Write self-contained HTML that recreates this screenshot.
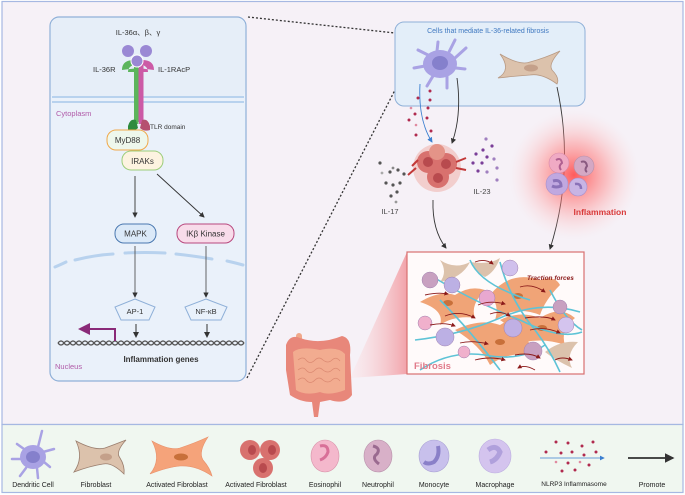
<!DOCTYPE html>
<html><head><meta charset="utf-8"><style>
html,body{margin:0;padding:0;background:#fff}
svg{display:block}
text{font-family:"Liberation Sans",sans-serif}
</style></head><body>
<svg width="685" height="495" viewBox="0 0 685 495" xmlns="http://www.w3.org/2000/svg">
<defs>
<radialGradient id="glow" cx="0.5" cy="0.5" r="0.5">
<stop offset="0" stop-color="#ff4a4a" stop-opacity="0.9"/>
<stop offset="0.5" stop-color="#ff8080" stop-opacity="0.45"/>
<stop offset="1" stop-color="#ffd0d0" stop-opacity="0"/>
</radialGradient>
<linearGradient id="tri" x1="0" x2="1" y1="0" y2="0">
<stop offset="0" stop-color="#fbe4e6" stop-opacity="0.3"/>
<stop offset="1" stop-color="#f2a3aa"/>
</linearGradient>
<marker id="ah" markerWidth="6" markerHeight="6" refX="5" refY="3" orient="auto"><path d="M0,0 L6,3 L0,6 z" fill="#333"/></marker>
<marker id="ahb" markerWidth="6" markerHeight="6" refX="5" refY="3" orient="auto"><path d="M0,0 L6,3 L0,6 z" fill="#3b7fd0"/></marker>
<marker id="ahr" markerWidth="5" markerHeight="5" refX="4" refY="2.5" orient="auto"><path d="M0,0 L5,2.5 L0,5 z" fill="#8b1a1a"/></marker>
<marker id="ahp" markerWidth="6" markerHeight="6" refX="5" refY="3" orient="auto"><path d="M0,0 L6,3 L0,6 z" fill="#8a2a78"/></marker>
</defs>
<rect x="0" y="0" width="685" height="495" fill="#fff"/>
<rect x="2" y="1.5" width="681" height="423" fill="#f6f1f7" stroke="#a6b8e2" stroke-width="1.2"/>
<rect x="2" y="424.5" width="681" height="68" fill="#f0f7f0" stroke="#a6b8e2" stroke-width="1.2"/>

<path d="M248,17 L395,33" stroke="#333" stroke-width="1.3" stroke-dasharray="2,2" fill="none"/>
<path d="M247,378 L395,90" stroke="#333" stroke-width="1.3" stroke-dasharray="2,2" fill="none"/>

<rect x="50" y="17" width="196" height="364" rx="9" fill="#eaf1fa" stroke="#8fb0d8" stroke-width="1.2"/>
<rect x="51" y="18" width="194" height="80" rx="8" fill="#e6eef8"/>
<line x1="52" y1="97" x2="244" y2="97" stroke="#b8d2ee" stroke-width="2"/>
<line x1="52" y1="102" x2="244" y2="102" stroke="#b8d2ee" stroke-width="2"/>
<text x="138" y="35" font-size="7.5" text-anchor="middle" fill="#333">IL-36α、β、γ</text>
<text x="56" y="116" font-size="7.5" fill="#b05aa8">Cytoplasm</text>
<text x="55" y="369" font-size="7.5" fill="#b05aa8">Nucleus</text>
<path d="M122,70 Q122,60 134,60 L136,64 Q128,66 128,72 L135,72 L135,122 L139,122 L139,68 Z" fill="#5cb55c"/>
<path d="M154,70 Q154,60 142,60 L140,64 Q148,66 148,72 L142,72 L142,122 L138,122 L138,68 Z" fill="#cc5aa6"/>
<rect x="134" y="64" width="4.5" height="60" fill="#5cb55c"/>
<rect x="139" y="64" width="4.5" height="60" fill="#cc5aa6"/>
<circle cx="128" cy="51" r="6" fill="#9a88d4"/>
<circle cx="146" cy="51" r="6" fill="#9a88d4"/>
<circle cx="137" cy="61" r="6" fill="#9a88d4" stroke="#fff" stroke-width="1"/>
<text x="93" y="72" font-size="7.5" fill="#333">IL-36R</text>
<text x="158" y="72" font-size="7.5" fill="#333">IL-1RAcP</text>
<path d="M128,126 Q130,118 136,120 L138,128 Q134,132 128,130 Z" fill="#2e8b3e"/>
<path d="M150,126 Q148,118 142,120 L140,128 Q144,132 150,130 Z" fill="#b55070"/>
<text x="150" y="129" font-size="6.5" fill="#333">TLR domain</text>
<rect x="107" y="130" width="41" height="20" rx="9" fill="#eef7ec" stroke="#f0a84a" stroke-width="1"/>
<text x="127.5" y="143" font-size="8" text-anchor="middle" fill="#333">MyD88</text>
<rect x="122" y="151" width="41" height="19" rx="9" fill="#fdf3e0" stroke="#9ccd7a" stroke-width="1"/>
<text x="142.5" y="164" font-size="8" text-anchor="middle" fill="#333">IRAKs</text>
<line x1="135" y1="176" x2="135" y2="217" stroke="#333" stroke-width="0.9" marker-end="url(#ah)"/>
<line x1="157" y1="174" x2="204" y2="217" stroke="#333" stroke-width="0.9" marker-end="url(#ah)"/>
<rect x="115" y="224" width="41" height="19" rx="9" fill="#dbe9f8" stroke="#4a78b0" stroke-width="1"/>
<text x="135.5" y="236.5" font-size="8" text-anchor="middle" fill="#333">MAPK</text>
<rect x="177" y="224" width="57" height="19" rx="9" fill="#f8dcea" stroke="#b8487e" stroke-width="1"/>
<text x="205.5" y="236.5" font-size="8" text-anchor="middle" fill="#333">IKβ Kinase</text>
<g fill="none" stroke="#b8d2ee" stroke-width="3" stroke-linecap="round">
<path d="M55,267 Q62,264 66,262"/><path d="M75,260 Q95,255 113,254"/>
<path d="M125,253 Q145,252 165,253"/><path d="M176,254 Q195,256 212,259"/>
<path d="M227,261 Q236,263 243,265"/>
</g>
<line x1="135" y1="246" x2="135" y2="297" stroke="#555" stroke-width="0.9" marker-end="url(#ah)"/>
<line x1="206" y1="246" x2="206" y2="297" stroke="#555" stroke-width="0.9" marker-end="url(#ah)"/>
<polygon points="135,299 155,307 149,320 121,320 115,307" fill="#e9f1fb" stroke="#8fb0d8" stroke-width="1"/>
<text x="135" y="314" font-size="7.5" text-anchor="middle" fill="#333">AP-1</text>
<polygon points="206,299 227,307 221,320 191,320 185,307" fill="#e9f1fb" stroke="#8fb0d8" stroke-width="1"/>
<text x="206" y="314" font-size="7.5" text-anchor="middle" fill="#333">NF-κB</text>
<line x1="136" y1="324" x2="136" y2="337" stroke="#333" stroke-width="1" marker-end="url(#ah)"/>
<line x1="207" y1="324" x2="207" y2="337" stroke="#333" stroke-width="1" marker-end="url(#ah)"/>
<path d="M58,343 q3,-4 6,0 t6,0 t6,0 t6,0 t6,0 t6,0 t6,0 t6,0 t6,0 t6,0 t6,0 t6,0 t6,0 t6,0 t6,0 t6,0 t6,0 t6,0 t6,0 t6,0 t6,0 t6,0 t6,0 t6,0 t6,0 t6,0 t6,0 t6,0 t6,0 t6,0 t6,0" fill="none" stroke="#555" stroke-width="1.3"/>
<path d="M58,343 q3,4 6,0 t6,0 t6,0 t6,0 t6,0 t6,0 t6,0 t6,0 t6,0 t6,0 t6,0 t6,0 t6,0 t6,0 t6,0 t6,0 t6,0 t6,0 t6,0 t6,0 t6,0 t6,0 t6,0 t6,0 t6,0 t6,0 t6,0 t6,0 t6,0 t6,0 t6,0" fill="none" stroke="#555" stroke-width="1.3"/>
<path d="M115,341 L115,329 L80,329" fill="none" stroke="#8a2a78" stroke-width="2" marker-end="url(#ahp)"/>
<text x="161" y="362" font-size="8" font-weight="bold" text-anchor="middle" fill="#333">Inflammation genes</text>

<rect x="395" y="22" width="190" height="84" rx="9" fill="#e3eef9" stroke="#8fb0d8" stroke-width="1"/>
<text x="488" y="33" font-size="7" text-anchor="middle" fill="#3f78c0">Cells that mediate IL-36-related fibrosis</text>
<g fill="#a9a2e4" stroke="#a9a2e4" stroke-width="3" stroke-linecap="round">
<ellipse cx="440" cy="64" rx="17" ry="14" stroke="none"/>
<path d="M448,54 L455,40 M455,58 L466,48 M456,68 L465,69 M447,76 L447,88 M433,76 L427,86 M425,66 L414,68 M428,55 L418,50 M437,51 L438,42" fill="none"/>
</g>
<ellipse cx="440" cy="63" rx="8" ry="7" fill="#8580cc"/>
<path d="M500,54 Q520,66 530,62 Q545,58 560,51 Q548,64 552,70 Q560,78 557,84 Q542,73 530,75 Q515,76 498,78 Q512,70 500,54 Z" fill="#dcc2ac" stroke="#b89a84" stroke-width="0.8"/>
<ellipse cx="531" cy="68" rx="7" ry="3.5" fill="#c4a08a"/>
<path d="M420,84 Q418,120 432,142" fill="none" stroke="#3b7fd0" stroke-width="0.9" marker-end="url(#ahb)"/>
<path d="M457,78 Q462,115 452,143" fill="none" stroke="#333" stroke-width="0.9" marker-end="url(#ah)"/>
<path d="M557,87 Q575,170 550,249" fill="none" stroke="#333" stroke-width="0.9" marker-end="url(#ah)"/>
<path d="M433,200 Q432,230 446,248" fill="none" stroke="#333" stroke-width="0.9" marker-end="url(#ah)"/>
<g fill="#b02a4e">
<circle cx="430" cy="91" r="1.5"/><circle cx="418" cy="98" r="1.5"/><circle cx="430" cy="100" r="1.5"/><circle cx="411" cy="108" r="1.3" fill="#e08aa0"/><circle cx="415" cy="114" r="1.5"/><circle cx="428" cy="108" r="1.5"/><circle cx="409" cy="120" r="1.5"/><circle cx="427" cy="118" r="1.5"/><circle cx="416" cy="125" r="1.3" fill="#e08aa0"/><circle cx="431" cy="131" r="1.5"/><circle cx="416" cy="135" r="1.5"/>
</g>
<g>
<circle cx="437" cy="168" r="24" fill="#f0b8b0" opacity="0.6"/>
<circle cx="428" cy="162" r="11" fill="#d8716e"/><circle cx="446" cy="164" r="11" fill="#d8716e"/>
<circle cx="438" cy="177" r="11" fill="#d8716e"/><circle cx="437" cy="152" r="8" fill="#e49488"/>
<circle cx="428" cy="162" r="5" fill="#b84a4e"/><circle cx="446" cy="164" r="5" fill="#b84a4e"/><circle cx="438" cy="178" r="5" fill="#b84a4e"/>
<g stroke="#c23838" stroke-width="2"><line x1="408" y1="175" x2="416" y2="168"/><line x1="456" y1="162" x2="466" y2="158"/><line x1="456" y1="168" x2="466" y2="170"/><line x1="412" y1="166" x2="418" y2="160"/></g>
</g>
<g fill="#555"><circle cx="380" cy="163" r="1.6"/><circle cx="382" cy="173" r="1.4" fill="#aaa"/><circle cx="390" cy="172" r="1.6"/><circle cx="398" cy="170" r="1.6"/><circle cx="404" cy="174" r="1.6"/><circle cx="386" cy="183" r="1.6"/><circle cx="393" cy="185" r="1.6"/><circle cx="400" cy="183" r="1.6"/><circle cx="391" cy="196" r="1.6"/><circle cx="397" cy="192" r="1.6"/><circle cx="396" cy="202" r="1.4" fill="#999"/><circle cx="393" cy="168" r="1.4" fill="#888"/></g>
<g fill="#7a3e98"><circle cx="486" cy="139" r="1.6" fill="#a080c0"/><circle cx="483" cy="150" r="1.6"/><circle cx="492" cy="146" r="1.6"/><circle cx="476" cy="154" r="1.6"/><circle cx="487" cy="157" r="1.6"/><circle cx="473" cy="163" r="1.6"/><circle cx="482" cy="163" r="1.6"/><circle cx="494" cy="159" r="1.6" fill="#a080c0"/><circle cx="478" cy="171" r="1.6"/><circle cx="487" cy="172" r="1.6" fill="#a080c0"/><circle cx="497" cy="168" r="1.6" fill="#a080c0"/><circle cx="497" cy="180" r="1.6" fill="#a080c0"/></g>
<text x="390" y="214" font-size="7.5" text-anchor="middle" fill="#444">IL-17</text>
<text x="482" y="194" font-size="7.5" text-anchor="middle" fill="#444">IL-23</text>
<circle cx="574" cy="175" r="65" fill="url(#glow)"/>
<circle cx="559" cy="163" r="10" fill="#f0aac4" stroke="#d88aa8" stroke-width="0.6"/>
<circle cx="584" cy="166" r="10" fill="#d4a8c4" stroke="#b890aa" stroke-width="0.6"/>
<circle cx="557" cy="184" r="11" fill="#c0a8e0" stroke="#a890cc" stroke-width="0.6"/>
<circle cx="578" cy="187" r="9" fill="#c8b4e4" stroke="#a890cc" stroke-width="0.6"/>
<path d="M556,160 q5,-3 6,3 q-4,3 -1,7" stroke="#b06090" fill="none" stroke-width="2"/>
<path d="M581,162 q5,-2 6,4 q-3,4 0,6" stroke="#8a5a80" fill="none" stroke-width="2"/>
<path d="M553,181 q8,-2 8,5 q-5,2 -9,0" stroke="#8a72b8" fill="none" stroke-width="3"/>
<path d="M575,184 q6,-1 6,5" stroke="#8a72b8" fill="none" stroke-width="2.5"/>
<text x="600" y="215" font-size="8.5" font-weight="bold" text-anchor="middle" fill="#d83a3a">Inflammation</text>

<polygon points="350,378 407,252 407,374" fill="url(#tri)"/>
<rect x="407" y="252" width="177" height="122" fill="#fffafa" stroke="#d87070" stroke-width="1.2"/>
<g fill="#f0a070" opacity="0.95">
<path d="M420,302 Q440,290 455,295 Q470,285 485,290 Q470,305 475,318 Q455,315 440,325 Q445,310 420,302 Z"/>
<path d="M490,295 Q510,270 540,280 Q555,275 560,285 Q545,300 540,315 Q515,305 495,320 Q500,305 490,295 Z"/>
<path d="M455,330 Q480,318 500,325 Q515,315 530,322 Q520,340 540,355 Q510,350 490,365 Q480,345 455,330 Z"/>
<path d="M500,320 Q520,310 540,318 Q560,305 575,318 Q560,330 565,345 Q545,338 525,342 Q515,330 500,320 Z"/>
</g>
<g fill="#c8703a"><ellipse cx="448" cy="303" rx="5" ry="3"/><ellipse cx="518" cy="296" rx="5" ry="3"/><ellipse cx="500" cy="342" rx="5" ry="3"/><ellipse cx="542" cy="328" rx="5" ry="3"/></g>
<g fill="#dcc2ac"><path d="M440,260 Q455,270 470,262 Q462,278 440,282 Q448,272 440,260 Z"/><path d="M470,262 Q490,265 500,258 Q495,272 485,277 Q475,272 470,262 Z"/><path d="M545,352 Q560,340 578,342 Q565,355 572,368 Q555,360 545,352 Z"/></g>
<g fill="none" stroke="#5ec3d6" stroke-width="1.6">
<path d="M430,275 Q470,300 520,320 Q560,340 582,332"/><path d="M415,340 Q460,335 500,318 Q540,300 580,312"/>
<path d="M420,370 Q450,350 485,355 Q520,362 545,345"/><path d="M440,300 Q470,330 500,370"/>
<path d="M500,262 Q510,300 535,330 Q550,350 560,372"/><path d="M470,260 Q480,285 530,300"/>
<path d="M550,290 Q565,320 582,330"/>
</g>
<g stroke="#a080b0" stroke-width="0.5">
<circle cx="430" cy="280" r="8" fill="#c8a0c0"/><circle cx="452" cy="285" r="8" fill="#bcb0e4"/>
<circle cx="510" cy="268" r="8" fill="#d0c0ec"/><circle cx="487" cy="298" r="8" fill="#e8a8d0"/>
<circle cx="560" cy="307" r="7" fill="#c8a0c0"/><circle cx="425" cy="323" r="7" fill="#f0b0cc"/>
<circle cx="445" cy="337" r="9" fill="#bcb0e4"/><circle cx="513" cy="328" r="9" fill="#c0b0e4"/>
<circle cx="566" cy="325" r="8" fill="#d4c4ee"/><circle cx="464" cy="352" r="6" fill="#f0b0cc"/>
<circle cx="533" cy="351" r="9" fill="#c8a0c0"/>
</g>
<g fill="none" stroke="#8b1a1a" stroke-width="0.9" marker-end="url(#ahr)">
<path d="M475,262 Q485,258 493,264"/><path d="M425,295 Q438,292 448,294"/><path d="M478,305 Q490,300 505,304"/>
<path d="M445,316 Q460,310 475,318"/><path d="M430,325 Q445,322 455,326"/><path d="M520,287 Q532,283 545,292"/>
<path d="M490,314 Q500,310 510,316"/><path d="M525,318 Q545,315 555,320"/><path d="M530,330 Q545,326 560,333"/>
<path d="M460,343 Q472,340 488,344"/><path d="M515,355 Q530,352 540,358"/><path d="M475,360 Q490,356 505,360"/>
<path d="M555,360 Q562,356 572,360"/><path d="M535,370 Q525,364 518,368"/>
</g>
<text x="527" y="280" font-size="6.5" font-style="italic" font-weight="bold" fill="#8b1a1a">Traction forces</text>
<text x="414" y="369" font-size="9.5" font-weight="bold" fill="#e07a8a">Fibrosis</text>

<g>
<rect x="296" y="333" width="6" height="10" rx="3" fill="#f0a88a"/>
<path d="M286,345 Q290,334 300,338 Q320,345 342,336 Q352,338 350,355 L352,395 Q345,405 330,400 L320,402 L318,417 L314,417 L312,402 Q300,402 290,395 L286,370 Z" fill="#e8877a"/>
<path d="M293,352 Q300,346 320,350 Q338,346 345,354 L345,390 Q330,396 320,392 Q305,396 296,390 Z" fill="#f2ac90"/>
<g fill="none" stroke="#dc8a72" stroke-width="0.8"><path d="M298,360 q5,-4 8,0 q4,5 9,0 q4,-4 8,0 q5,4 9,0 q4,-4 8,1"/><path d="M298,370 q5,-4 8,0 q4,5 9,0 q4,-4 8,0 q5,4 9,0 q4,-4 8,1"/><path d="M298,380 q5,-4 8,0 q4,5 9,0 q4,-4 8,0 q5,4 9,0 q4,-4 8,1"/></g>
</g>

<g>
<g fill="#a9a2e4" stroke="#a9a2e4" stroke-width="2.5" stroke-linecap="round">
<ellipse cx="33" cy="457" rx="13" ry="12" stroke="none"/>
<path d="M38,447 L42,431 M43,452 L54,449 M44,462 L50,467 M37,468 L38,478 M26,468 L20,476 M21,459 L12,459 M24,449 L17,444" fill="none"/>
</g>
<ellipse cx="33" cy="457" rx="7" ry="6" fill="#8580cc"/>
<path d="M76,441 Q95,451 105,448 Q116,444 126,440 Q115,452 120,458 Q125,466 124,474 Q112,462 103,464 Q90,466 74,472 Q84,458 76,441 Z" fill="#dcc2ac" stroke="#9a7e6e" stroke-width="0.8"/>
<ellipse cx="106" cy="457" rx="6" ry="3.5" fill="#c4a08a"/>
<path d="M152,441 Q170,451 180,448 Q195,443 208,437 Q198,452 203,460 Q210,468 212,476 Q196,465 180,466 Q168,467 150,474 Q162,460 152,441 Z" fill="#f5a37a" stroke="#e8906a" stroke-width="0.6"/>
<ellipse cx="181" cy="457" rx="7" ry="3.5" fill="#c8703a"/>
<circle cx="250" cy="450" r="10" fill="#d8716e"/><circle cx="270" cy="450" r="10" fill="#d8716e"/><circle cx="263" cy="468" r="10" fill="#d8716e"/>
<ellipse cx="252" cy="450" rx="4" ry="5" fill="#b84a4e"/><ellipse cx="272" cy="450" rx="4" ry="5" fill="#b84a4e"/><ellipse cx="263" cy="468" rx="4" ry="5" fill="#b84a4e"/>
<ellipse cx="325" cy="456" rx="14" ry="16" fill="#f4b8cc" stroke="#d890a8" stroke-width="0.6"/>
<path d="M320,446 q8,-2 8,6 q-2,6 -8,8" fill="none" stroke="#d87098" stroke-width="3"/>
<ellipse cx="378" cy="456" rx="14" ry="16" fill="#d8b0c8" stroke="#b890aa" stroke-width="0.6"/>
<path d="M373,446 q8,2 4,8 q-6,4 2,10" fill="none" stroke="#9a6a90" stroke-width="3"/>
<ellipse cx="434" cy="456" rx="15" ry="16" fill="#c8c0ec" stroke="#a8a0d4" stroke-width="0.6"/>
<path d="M438,446 q2,10 -4,16 q-6,3 -10,0" fill="none" stroke="#8a80c8" stroke-width="4"/>
<ellipse cx="495" cy="456" rx="16" ry="17" fill="#d4c4ee" stroke="#bcaee0" stroke-width="0.6"/>
<path d="M488,450 q8,-6 12,2 q-3,8 -10,10" fill="none" stroke="#b0a0dc" stroke-width="5"/>
<line x1="540" y1="458" x2="604" y2="458" stroke="#3b7fd0" stroke-width="0.8" marker-end="url(#ahb)"/>
<g fill="#b02a4e"><circle cx="556" cy="442" r="1.5"/><circle cx="568" cy="443" r="1.5"/><circle cx="582" cy="446" r="1.5"/><circle cx="593" cy="442" r="1.5"/><circle cx="546" cy="452" r="1.5"/><circle cx="561" cy="453" r="1.5"/><circle cx="572" cy="452" r="1.5"/><circle cx="584" cy="455" r="1.5"/><circle cx="596" cy="452" r="1.5"/><circle cx="556" cy="462" r="1.3" fill="#e08aa0"/><circle cx="568" cy="463" r="1.5"/><circle cx="580" cy="462" r="1.3" fill="#e08aa0"/><circle cx="589" cy="465" r="1.5"/><circle cx="562" cy="471" r="1.5"/><circle cx="575" cy="470" r="1.5"/></g>
<line x1="628" y1="458" x2="673" y2="458" stroke="#111" stroke-width="1.6" marker-end="url(#ah)"/>
<g font-size="7" fill="#222" text-anchor="middle">
<text x="33" y="487">Dendritic Cell</text><text x="96" y="487">Fibroblast</text>
<text x="177" y="487">Activated Fibroblast</text><text x="256" y="487">Activated Fibroblast</text>
<text x="325" y="487">Eosinophil</text><text x="378" y="487">Neutrophil</text>
<text x="434" y="487">Monocyte</text><text x="495" y="487">Macrophage</text>
<text x="574" y="486" font-size="6.5">NLRP3 Inflammasome</text><text x="652" y="487">Promote</text>
</g>
</g>
</svg>
</body></html>
